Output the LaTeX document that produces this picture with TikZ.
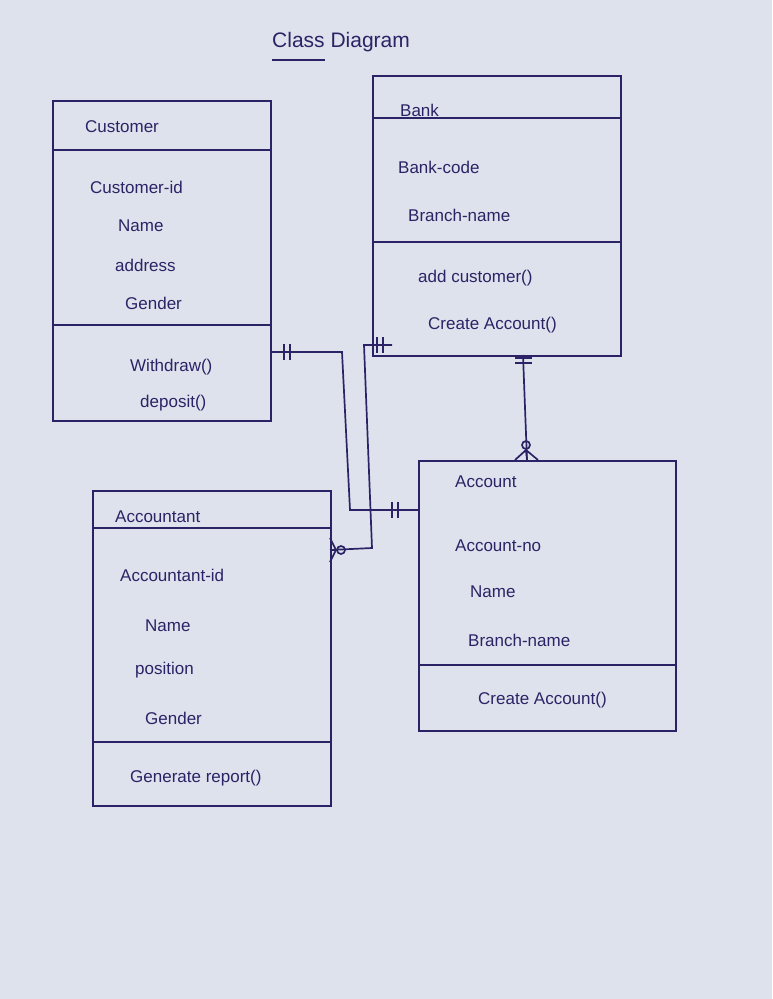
\documentclass[tikz,border=0pt]{standalone}
\usepackage{fontspec}
\setmainfont{Liberation Sans}
\begin{document}
\begin{tikzpicture}[x=1pt,y=-1pt,
  ink/.style={draw=inkc,line width=1.7pt},
  cls/.style={ink,anchor=north west,inner sep=0pt},
  lbl/.style={anchor=west,text=inkc,font=\fontsize{17}{19}\selectfont,inner sep=0pt}]
\definecolor{inkc}{HTML}{2B2366}
\definecolor{paper}{HTML}{DEE2EC}
\fill[paper] (0,0) rectangle (772,999);
\useasboundingbox (0,0) rectangle (772,999);
\node[lbl,font=\fontsize{21}{23}\selectfont] (title) at (272,42) {Class Diagram};
\draw[ink] (272,60) -- (325,60);
% boxes
\node[cls,minimum width=218pt,minimum height=320pt] (cust) at (52,100) {};
\node[cls,minimum width=248pt,minimum height=280pt] (bank) at (372,75) {};
\node[cls,minimum width=257pt,minimum height=270pt] (acc) at (418,460) {};
\node[cls,minimum width=238pt,minimum height=315pt] (acct) at (92,490) {};
% separators
\draw[ink] (52,150) -- (270,150) (52,325) -- (270,325);
\draw[ink] (372,118) -- (620,118) (372,242) -- (620,242);
\draw[ink] (418,665) -- (675,665);
\draw[ink] (92,528) -- (330,528) (92,742) -- (330,742);
% texts
\node[lbl] (c0) at (85,127) {Customer};
\node[lbl] (c1) at (90,187) {Customer-id};
\node[lbl] (c2) at (118,226) {Name};
\node[lbl] (c3) at (115,265) {address};
\node[lbl] (c4) at (125,303) {Gender};
\node[lbl] (c5) at (130,367) {Withdraw()};
\node[lbl] (c6) at (140,403) {deposit()};
\node[lbl] (b0) at (400,110) {Bank};
\node[lbl] (b1) at (398,167) {Bank-code};
\node[lbl] (b2) at (408,215) {Branch-name};
\node[lbl] (b3) at (418,278) {add customer()};
\node[lbl] (b4) at (428,325) {Create Account()};
\node[lbl] (a0) at (455,482) {Account};
\node[lbl] (a1) at (455,546) {Account-no};
\node[lbl] (a2) at (470,592) {Name};
\node[lbl] (a3) at (468,640) {Branch-name};
\node[lbl] (a4) at (478,700) {Create Account()};
\node[lbl] (t0) at (115,517) {Accountant};
\node[lbl] (t1) at (120,575) {Accountant-id};
\node[lbl] (t2) at (145,626) {Name};
\node[lbl] (t3) at (135,670) {position};
\node[lbl] (t4) at (145,718) {Gender};
\node[lbl] (t5) at (130,778) {Generate report()};
% connector 1: Customer -- Account
\coordinate (p1) at (270,352);
\coordinate (q1) at (418,510);
\draw[ink] (p1) -- (342,352) -- (350,510) -- (q1);
\draw[ink] (284,344) -- (284,360) (290,344) -- (290,360);
\draw[ink] (392,502) -- (392,518) (398,502) -- (398,518);
% connector 2: Bank -- Accountant
\coordinate (p2) at (392,345);
\coordinate (q2) at (330,550);
\draw[ink] (p2) -- (364,345) -- (372,548) -- (q2);
\draw[ink] (377,337) -- (377,353) (383,337) -- (383,353);
\draw[ink] (341,550) circle (4pt);
\draw[ink] (336,550) -- (q2|-0,538) (336,550) -- (q2) (336,550) -- (q2|-0,562);
% connector 3: Bank -- Account
\coordinate (p3) at (523,355);
\coordinate (q3) at (527,460);
\draw[ink] (p3) -- (q3);
\draw[ink] (515,358) -- (532,358) (515,363) -- (532,363);
\draw[ink] (526,445) circle (4pt);
\draw[ink] (526,450) -- (515,460) (526,450) -- (q3) (526,450) -- (538,460);
\end{tikzpicture}
\end{document}
